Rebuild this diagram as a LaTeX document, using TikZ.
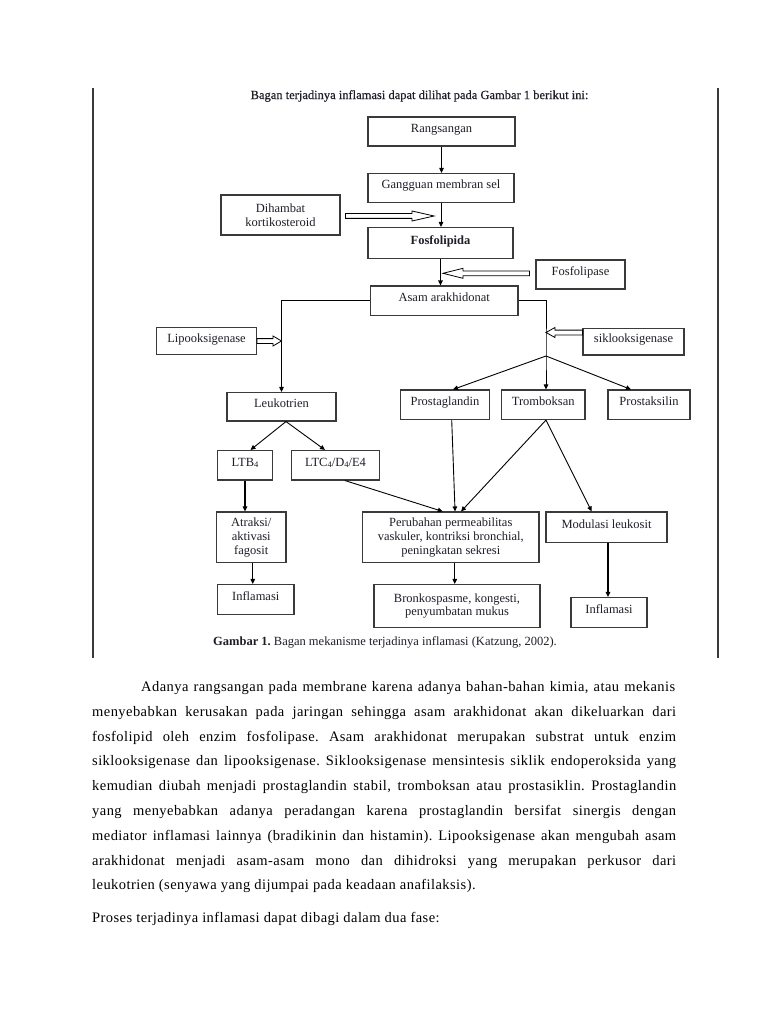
\documentclass[tikz,border=0pt]{standalone}
\usepackage{fontspec}
\setmainfont{Liberation Serif}
\newfontfamily\bodyfam[LetterSpace=3]{Liberation Serif}
\newfontfamily\titlefam[FakeBold=0.5]{Liberation Serif}
\usetikzlibrary{arrows.meta,calc}
\definecolor{ink}{HTML}{1E1E28}
\definecolor{boxc}{HTML}{3A3A3A}
\newcommand{\sbs}[1]{\raisebox{-0.8pt}{\fontsize{8.5}{8.5}\selectfont #1}}
\newcommand{\bx}[7][]{\node[box,#1,minimum width={#4-#2},minimum height={#5-#3}] (#6) at ({(#2+#4)/2},{(#3+#5)/2}) {#7};}
\newcommand{\hollowarrow}[3]{%
  \draw[harrow] let \p1=#2, \p2=#3, \n1={sign(\x2-\x1)} in
    (\x1,\y2+2.4pt) -- (\x2-\n1*#1,\y2+2.4pt) -- (\x2-\n1*#1,\y2+5pt) -- (\x2,\y2)
    -- (\x2-\n1*#1,\y2-5pt) -- (\x2-\n1*#1,\y2-2.4pt) -- (\x1,\y2-2.4pt) -- cycle;}
\frenchspacing
\begin{document}
\begin{tikzpicture}[x=1pt,y=-1pt,
  box/.style={draw=boxc, line width=1.1pt, fill=white, inner sep=0pt, align=center, text=ink,
              font=\fontsize{12.5}{13.8}\selectfont},
  one/.style={text height=8pt, text depth=6pt},
  conn/.style={draw=black, line width=0.9pt, -{Triangle[length=5pt,width=4.5pt]}},
  thickconn/.style={conn, line width=1.8pt},
  harrow/.style={draw=black, line width=0.8pt, fill=white, line join=miter},
  frame/.style={draw=boxc, line width=1.2pt},
  bodyline/.style={anchor=base west, inner sep=0pt, text=black, font=\bodyfam\fontsize{14.5}{16}\selectfont\frenchspacing},
  plain/.style={inner sep=0pt, text=ink, font=\fontsize{12.5}{14}\selectfont}]
\fill[white] (0,0) rectangle (768,1024);
\useasboundingbox (0,0) rectangle (768,1024);
% frame lines
\draw[frame] (93,88) -- (93,658);
\draw[frame] (718,88) -- (718,658);
% title
\node[plain, font=\titlefam\fontsize{12.5}{14}\selectfont] (title) at (419.5,96) {Bagan terjadinya inflamasi dapat dilihat pada Gambar 1 berikut ini:};
% boxes
\bx[one]{368}{117}{515}{146}{rang}{Rangsangan}
\bx[one]{368}{173.5}{514}{202.5}{gang}{Gangguan membran sel}
\bx{221}{195}{340}{235}{diham}{Dihambat\\kortikosteroid}
\bx[one]{368}{227.5}{513}{258.5}{fosf}{\textbf{Fosfolipida}}
\bx[one]{536}{260}{625}{289}{fosfase}{Fosfolipase}
\bx[one]{370.5}{286}{518}{315.5}{asam}{Asam arakhidonat}
\bx[one]{156.5}{327.5}{256.5}{354.5}{lipo}{Lipooksigenase}
\bx[one]{583}{328.5}{684}{355}{siklo}{siklooksigenase}
\bx[one]{227}{392.5}{336}{421}{leuko}{Leukotrien}
\bx[one]{400.5}{390}{489.5}{419.5}{pglan}{Prostaglandin}
\bx[one]{501.5}{390}{585}{419.5}{trom}{Tromboksan}
\bx[one]{608}{390}{690}{419.5}{psik}{Prostaksilin}
\bx[one]{217.5}{450.5}{272.5}{480}{ltb}{LTB\sbs{4}}
\bx[one]{291.5}{450.5}{379.5}{480}{ltc}{LTC\sbs{4}/D\sbs{4}/E4}
\bx{216.5}{512}{286}{562.5}{atrak}{Atraksi/\\aktivasi\\fagosit}
\bx{362.5}{512}{539}{562.5}{perub}{Perubahan permeabilitas\\vaskuler, kontriksi bronchial,\\peningkatan sekresi}
\bx[one]{546}{512}{667}{542.5}{modul}{Modulasi leukosit}
\bx[one]{217.5}{584.5}{294}{614.5}{inflL}{Inflamasi}
\bx{374}{584.5}{540}{627.5}{bronk}{Bronkospasme, kongesti,\\penyumbatan mukus}
\bx[one]{571}{597.5}{647}{627.5}{inflR}{Inflamasi}
% caption
\node[plain] (caption) at (385,642) {\textbf{Gambar 1.} Bagan mekanisme terjadinya inflamasi (Katzung, 2002).};
% connectors
\draw[conn] (rang.south) -- (rang.south |- gang.north);
\draw[conn] (gang.south) -- (gang.south |- fosf.north);
\draw[thickconn] (fosf.south) -- (fosf.south |- asam.north);
\coordinate (ha1) at (434,216);
\hollowarrow{22}{([xshift=5pt]diham.east)}{(ha1)}
\coordinate (ha2) at (443,273.3);
\hollowarrow{20}{([xshift=-6pt]fosfase.west)}{(ha2)}
\coordinate (split) at (546,356);
\draw[conn] (asam.west) -| (leuko.north);
\draw[conn] (asam.east) -| (split) -- (split |- trom.north);
\coordinate (ha3) at (281.5,341);
\hollowarrow{8.5}{(lipo.east)}{(ha3)}
\coordinate (ha4) at (546,332.5);
\hollowarrow{9}{(siklo.west)}{(ha4)}
\draw[conn] (split) -- ([xshift=8pt]pglan.north);
\draw[conn] (split) -- ([xshift=-18pt]psik.north);
\coordinate (lk) at ([xshift=4.5pt]leuko.south);
\draw[conn] (lk) -- ([xshift=5.5pt]ltb.north);
\draw[conn] (lk) -- ([xshift=-10.5pt]ltc.north);
\draw[thickconn] (ltb.south) -- (ltb.south |- atrak.north);
\draw[conn] ([xshift=9.5pt]ltc.south) -- ([xshift=-8pt]perub.north);
\draw[conn] ([xshift=6.7pt]pglan.south) -- ([xshift=4.3pt]perub.north);
\coordinate (tb) at ([xshift=2.75pt]trom.south);
\draw[conn] (tb) -- ([xshift=10.3pt]perub.north);
\draw[conn] (tb) -- ([xshift=-14.8pt]modul.north);
\coordinate (a1) at ([xshift=1.5pt]atrak.south);
\draw[conn] (a1) -- (a1 |- inflL.north);
\coordinate (p1) at ([xshift=4pt]perub.south);
\draw[conn] (p1) -- (p1 |- bronk.north);
\coordinate (m1) at ([xshift=1.5pt]modul.south);
\draw[thickconn] (m1) -- (m1 |- inflR.north);
% body text
\node[bodyline] (b1) at (141,691.5) {\makebox[534pt][s]{Adanya rangsangan pada membrane karena adanya bahan-bahan kimia, atau mekanis}};
\node[bodyline] (b2) at (92,716.3) {\makebox[584pt][s]{menyebabkan kerusakan pada jaringan sehingga asam arakhidonat akan dikeluarkan dari}};
\node[bodyline] (b3) at (92,741.1) {\makebox[584pt][s]{fosfolipid oleh enzim fosfolipase. Asam arakhidonat merupakan substrat untuk enzim}};
\node[bodyline] (b4) at (92,765.9) {\makebox[584pt][s]{siklooksigenase dan lipooksigenase. Siklooksigenase mensintesis siklik endoperoksida yang}};
\node[bodyline] (b5) at (92,790.7) {\makebox[584pt][s]{kemudian diubah menjadi prostaglandin stabil, tromboksan atau prostasiklin. Prostaglandin}};
\node[bodyline] (b6) at (92,815.5) {\makebox[584pt][s]{yang menyebabkan adanya peradangan karena prostaglandin bersifat sinergis dengan}};
\node[bodyline] (b7) at (92,840.3) {\makebox[584pt][s]{mediator inflamasi lainnya (bradikinin dan histamin). Lipooksigenase akan mengubah asam}};
\node[bodyline] (b8) at (92,865.1) {\makebox[584pt][s]{arakhidonat menjadi asam-asam mono dan dihidroksi yang merupakan perkusor dari}};
\node[bodyline] (b9) at (92,889.9) {leukotrien (senyawa yang dijumpai pada keadaan anafilaksis).};
\node[bodyline] (b10) at (92,922) {Proses terjadinya inflamasi dapat dibagi dalam dua fase:};
\end{tikzpicture}
\end{document}
